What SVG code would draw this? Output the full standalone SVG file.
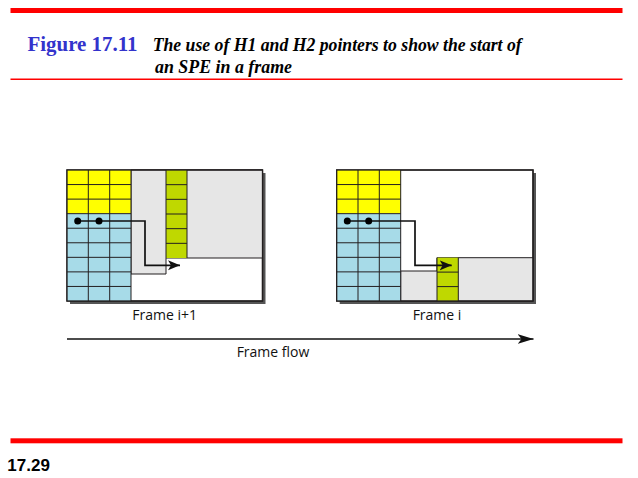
<svg xmlns="http://www.w3.org/2000/svg" width="638" height="478" viewBox="0 0 638 478">
<style>
.bar{fill:#ff0000}
.title{font-family:"Liberation Serif",serif;font-weight:bold}
.lbl{font-family:"Open Sans","Liberation Sans",sans-serif;font-size:14px;fill:#111}
.shadow{fill:#555}
.frame{fill:#fff;stroke:#231f20;stroke-width:1.3}
.y{fill:#ffff00}
.b{fill:#a7dbe8}
.g{fill:#bfd800}
.gray{fill:#e6e6e6;stroke:#231f20;stroke-width:1}
.grid{stroke:#231f20;stroke-width:1;fill:none}
.ptr{stroke:#111;stroke-width:1.7;fill:none}
.dot{fill:#000}
</style>
<defs>
<marker id="ah" markerUnits="userSpaceOnUse" markerWidth="14" markerHeight="12" refX="12" refY="5" orient="auto" viewBox="0 0 14 10">
<path d="M0,0 L12,5 L0,10 L3,5 Z" fill="#111"/>
</marker>
<marker id="ah2" markerUnits="userSpaceOnUse" markerWidth="18" markerHeight="12" refX="16" refY="5" orient="auto" viewBox="0 0 18 10">
<path d="M0,0 L16,5 L0,10 L4,5 Z" fill="#111"/>
</marker>
</defs>
<rect width="638" height="478" fill="#fff"/>
<g id="header">
<rect class="bar" x="10.5" y="8" width="612" height="5"/>
<text class="title" x="27.5" y="50.7" font-size="20.5" fill="#3333cc" textLength="110" lengthAdjust="spacingAndGlyphs">Figure 17.11</text>
<text class="title" x="152.7" y="50.7" font-size="18.5" font-style="italic" fill="#000" textLength="369" lengthAdjust="spacingAndGlyphs">The use of H1 and H2 pointers to show the start of</text>
<text class="title" x="155" y="72.7" font-size="18.5" font-style="italic" fill="#000" textLength="137" lengthAdjust="spacingAndGlyphs">an SPE in a frame</text>
<rect class="bar" x="10.5" y="78.5" width="612" height="1.5"/>
</g>
<g id="frame-i-plus-1">
<rect class="shadow" x="70" y="173" width="195.5" height="131"/>
<rect class="frame" x="67" y="170" width="195.5" height="131"/>
<path class="gray" d="M131,170 H262.5 V258 H166 V274 H131 Z"/>
<rect class="g" x="166" y="170" width="21" height="88"/>
<path class="grid" d="M166,170 V258 M187,170 V258 M166,184.67 H187 M166,199.33 H187 M166,214 H187 M166,228.67 H187 M166,243.33 H187"/>
<rect class="y" x="67" y="170" width="64" height="43.67"/>
<rect class="b" x="67" y="213.67" width="64" height="87.33"/>
<path class="grid" d="M88.3,170 V301 M109.7,170 V301 M131,170 V301 M67,184.56 H131 M67,199.11 H131 M67,213.67 H131 M67,228.22 H131 M67,242.78 H131 M67,257.33 H131 M67,271.89 H131 M67,286.44 H131"/>
<rect x="67" y="170" width="195.5" height="131" fill="none" stroke="#231f20" stroke-width="1.3"/>
<text class="lbl" x="164.7" y="320" text-anchor="middle">Frame i+1</text>
</g>
<g id="frame-i">
<rect class="shadow" x="339.7" y="173" width="196.3" height="131"/>
<rect class="frame" x="336.7" y="170" width="196.3" height="131"/>
<path class="gray" d="M400.7,271 H437 V257.7 H533 V301 H400.7 Z"/>
<rect class="g" x="437" y="257.7" width="21.3" height="43.3"/>
<path class="grid" d="M437,257.7 V301 M458.3,257.7 V301 M437,272.1 H458.3 M437,286.6 H458.3"/>
<rect class="y" x="336.7" y="170" width="64" height="43.67"/>
<rect class="b" x="336.7" y="213.67" width="64" height="87.33"/>
<path class="grid" d="M358,170 V301 M379.3,170 V301 M400.7,170 V301 M336.7,184.56 H400.7 M336.7,199.11 H400.7 M336.7,213.67 H400.7 M336.7,228.22 H400.7 M336.7,242.78 H400.7 M336.7,257.33 H400.7 M336.7,271.89 H400.7 M336.7,286.44 H400.7"/>
<rect x="336.7" y="170" width="196.3" height="131" fill="none" stroke="#231f20" stroke-width="1.3"/>
<text class="lbl" x="437" y="320" text-anchor="middle">Frame i</text>
</g>
<g id="connectors">
<path class="ptr" d="M77.7,221 H145 V265.3 H180" marker-end="url(#ah)"/>
<circle class="dot" cx="77.7" cy="221" r="3.5"/>
<circle class="dot" cx="99" cy="221" r="3.5"/>
<path class="ptr" d="M347.3,221 H415 V265.3 H451.7" marker-end="url(#ah)"/>
<circle class="dot" cx="347.3" cy="221" r="3.5"/>
<circle class="dot" cx="368.7" cy="221" r="3.5"/>
<path class="ptr" d="M67,339 H533.5" marker-end="url(#ah2)"/>
</g>
<g id="flow-label">
<text class="lbl" x="273" y="356.7" text-anchor="middle">Frame flow</text>
</g>
<g id="footer">
<rect class="bar" x="10.5" y="438.3" width="612" height="5"/>
<text x="7.3" y="470.7" font-family="Liberation Sans,Arial,sans-serif" font-weight="bold" font-size="17" fill="#000">17.29</text>
</g>
</svg>
